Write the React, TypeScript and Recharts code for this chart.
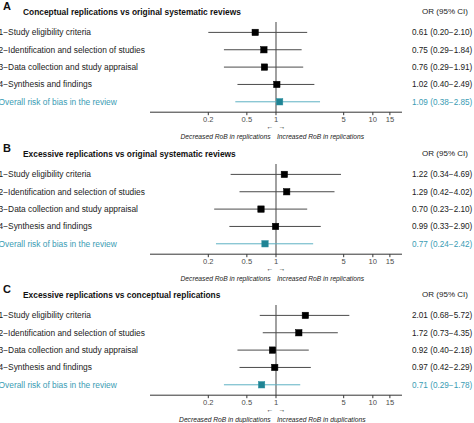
import React from "react";
import {
  ComposedChart,
  Scatter,
  XAxis,
  YAxis,
  ReferenceLine,
} from "recharts";

const rowLabels = [
  "1−Study eligibility criteria",
  "2−Identification and selection of studies",
  "3−Data collection and study appraisal",
  "4−Synthesis and findings",
  "Overall risk of bias in the review",
];
const rowIds = [1, 2, 3, 4, 5];
const panelLetters = ["A", "B", "C"];
const panelTitles = [
  "Conceptual replications vs original systematic reviews",
  "Excessive replications vs original systematic reviews",
  "Excessive replications vs conceptual replications",
];
const footerLeft = [
  "Decreased RoB in replications",
  "Decreased RoB in replications",
  "Decreased RoB in duplications",
];
const footerRight = [
  "Increased RoB in replications",
  "Increased RoB in replications",
  "Increased RoB in duplications",
];
const xTicks = [0.2, 0.5, 1, 5, 10, 15];

const orA = [0.61, 0.75, 0.76, 1.02, 1.09];
const loA = [0.2, 0.29, 0.29, 0.4, 0.38];
const hiA = [2.1, 1.84, 1.91, 2.49, 2.85];
const orB = [1.22, 1.29, 0.7, 0.99, 0.77];
const loB = [0.34, 0.42, 0.23, 0.33, 0.24];
const hiB = [4.69, 4.02, 2.1, 2.9, 2.42];
const orC = [2.01, 1.72, 0.92, 0.97, 0.71];
const loC = [0.68, 0.73, 0.4, 0.42, 0.29];
const hiC = [5.72, 4.35, 2.18, 2.29, 1.78];

const panelsData = [
  { or: orA, lo: loA, hi: hiA },
  { or: orB, lo: loB, hi: hiB },
  { or: orC, lo: loC, hi: hiC },
];

const W = 474;
const H = 141.7;
const FONT = "'Liberation Sans', Arial, Helvetica, sans-serif";
const TEXT = "#222222";
const TEAL_TEXT = "#3a9cb4";
const TEAL_LINE = "#5cb1c3";
const TEAL_FILL = "#1f8494";
const CI_LINE = "#4a4a4a";

const fmt = (v: number) => v.toFixed(2);

function LeftTick(props: any) {
  const { y, payload } = props;
  const i = payload.value - 1;
  return (
    <text
      x={-1.5}
      y={y}
      dy="0.35em"
      textAnchor="start"
      fontFamily={FONT}
      fontSize={8.4}
      fill={i === 4 ? TEAL_TEXT : TEXT}
    >
      {rowLabels[i]}
    </text>
  );
}

function makeRightTick(p: { or: number[]; lo: number[]; hi: number[] }) {
  return function RightTick(props: any) {
    const { y, payload } = props;
    const i = payload.value - 1;
    return (
      <text
        x={412}
        y={y}
        dy="0.35em"
        textAnchor="start"
        fontFamily={FONT}
        fontSize={8.2}
        fill={i === 4 ? TEAL_TEXT : TEXT}
      >
        {`${fmt(p.or[i])} (${fmt(p.lo[i])}−${fmt(p.hi[i])})`}
      </text>
    );
  };
}

function SquareShape(props: any) {
  const { cx, cy, payload } = props;
  const s = 6.4;
  const teal = payload.row === 5;
  return (
    <rect
      x={cx - s / 2}
      y={cy - s / 2}
      width={s}
      height={s}
      fill={teal ? TEAL_FILL : "#000000"}
      stroke={teal ? "#2b8fa0" : "#000000"}
      strokeWidth={0.5}
    />
  );
}

const NoShape = () => <g />;

function Panel({ idx }: { idx: number }) {
  const p = panelsData[idx];
  const data = rowIds.map((r, i) => ({ row: r, or: p.or[i], lo: p.lo[i], hi: p.hi[i] }));
  const RightTick = makeRightTick(p);
  return (
    <div style={{ position: "absolute", left: 0, top: idx * H, width: W, height: H }}>
      <ComposedChart
        width={W}
        height={H}
        data={data}
        margin={{ top: 22, right: 0, bottom: 9.5, left: 0 }}
      >
        <XAxis
          dataKey="or"
          type="number"
          scale="log"
          domain={[0.05, 20]}
          allowDataOverflow
          ticks={xTicks}
          tickFormatter={(v: number) => String(v)}
          height={20}
          tickSize={3}
          tickMargin={1}
          axisLine={{ stroke: "#333333", strokeWidth: 1 }}
          tickLine={{ stroke: "#333333" }}
          tick={{ fontSize: 7.6, fill: "#4d4d4d", fontFamily: FONT }}
          interval={0}
        />
        <YAxis
          yAxisId="left"
          dataKey="row"
          type="number"
          domain={[0.4, 5.6]}
          reversed
          ticks={rowIds}
          width={150}
          axisLine={false}
          tickLine={false}
          tick={<LeftTick />}
          interval={0}
        />
        <YAxis
          yAxisId="right"
          dataKey="row"
          orientation="right"
          type="number"
          domain={[0.4, 5.6]}
          reversed
          ticks={rowIds}
          width={72}
          axisLine={false}
          tickLine={false}
          tick={<RightTick />}
          interval={0}
        />
        <ReferenceLine yAxisId="left" x={1} stroke="#6e6e6e" strokeWidth={1.3} />
        {data.map((d) => (
          <ReferenceLine
            key={d.row}
            yAxisId="left"
            segment={[
              { x: d.lo, y: d.row },
              { x: d.hi, y: d.row },
            ]}
            stroke={d.row === 5 ? TEAL_LINE : CI_LINE}
            strokeWidth={1}
          />
        ))}
        <Scatter
          yAxisId="right"
          dataKey="row"
          data={data}
          shape={<NoShape />}
          isAnimationActive={false}
        />
        <Scatter
          yAxisId="left"
          dataKey="row"
          data={data}
          shape={<SquareShape />}
          isAnimationActive={false}
        />
      </ComposedChart>
      <svg
        width={W}
        height={H}
        style={{ position: "absolute", left: 0, top: 0, pointerEvents: "none" }}
      >
        <text x={3} y={10} fontFamily={FONT} fontSize={11} fontWeight="bold" fill="#111">
          {panelLetters[idx]}
        </text>
        <text x={23} y={14.5} fontFamily={FONT} fontSize={8.4} fontWeight="bold" fill="#111">
          {panelTitles[idx]}
        </text>
        <text x={445} y={14} fontFamily={FONT} fontSize={8} textAnchor="middle" fill={TEXT}>
          OR (95% CI)
        </text>
        <text x={273.5} y={129} fontFamily={FONT} fontSize={7} textAnchor="end" fill={TEXT}>
          ←
        </text>
        <text x={278.5} y={129} fontFamily={FONT} fontSize={7} textAnchor="start" fill={TEXT}>
          →
        </text>
        <text
          x={270.5}
          y={138.5}
          fontFamily={FONT}
          fontSize={6.7}
          fontStyle="italic"
          textAnchor="end"
          fill={TEXT}
        >
          {footerLeft[idx]}
        </text>
        <text
          x={277}
          y={138.5}
          fontFamily={FONT}
          fontSize={6.7}
          fontStyle="italic"
          textAnchor="start"
          fill={TEXT}
        >
          {footerRight[idx]}
        </text>
      </svg>
    </div>
  );
}

export default function App() {
  return (
    <div
      style={{
        position: "absolute",
        left: 0,
        top: 0,
        width: W,
        height: 423,
        background: "#ffffff",
        overflow: "hidden",
      }}
    >
      {panelLetters.map((_, i) => (
        <Panel key={i} idx={i} />
      ))}
    </div>
  );
}
